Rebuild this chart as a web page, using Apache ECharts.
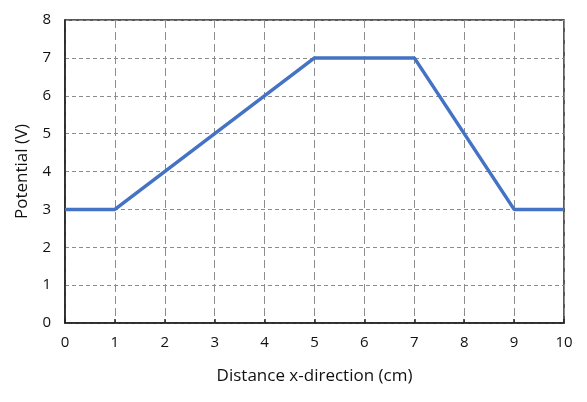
<!DOCTYPE html>
<html>
<head>
<meta charset="UTF-8">
<title>Potential</title>
<style>
    html, body { margin: 0; padding: 0; background: #fff; }
    #chart { width: 587px; height: 402px; }
</style>
</head>
<body>
<div id="chart"></div>
<script src="https://cdn.jsdelivr.net/npm/echarts@6/dist/echarts.min.js"></script>
<script>
    // values
    const distance = [0, 1, 5, 7, 9, 10];
    const potential = [3, 3, 7, 7, 3, 3];
    const xTicks = { min: 0, max: 10, step: 1 };
    const yTicks = { min: 0, max: 8, step: 1 };

    const font = 'Open Sans, Liberation Sans, sans-serif';
    const chart = echarts.init(document.getElementById('chart'));

    chart.setOption({
        animation: false,
        grid: {
            left: 65, right: 23, top: 20, bottom: 79,
            outerBoundsMode: 'none',
            show: true, borderColor: '#222', borderWidth: 1.5
        },
        xAxis: {
            type: 'value',
            min: xTicks.min, max: xTicks.max, interval: xTicks.step,
            name: 'Distance x-direction (cm)',
            nameLocation: 'middle', nameGap: 45,
            nameTextStyle: { fontFamily: font, fontSize: 17, color: '#111' },
            axisLine: { lineStyle: { color: '#222', width: 1.5 } },
            axisTick: { show: true, inside: true, length: 4, lineStyle: { color: '#222', width: 1.5 } },
            axisLabel: { fontFamily: font, fontSize: 15, color: '#111', margin: 12 },
            splitLine: { lineStyle: { color: '#8c8c8c', type: [8, 4], width: 1 } }
        },
        yAxis: {
            type: 'value',
            min: yTicks.min, max: yTicks.max, interval: yTicks.step,
            name: 'Potential (V)',
            nameLocation: 'middle', nameGap: 34,
            nameTextStyle: { fontFamily: font, fontSize: 17, color: '#111' },
            axisLine: { show: true, lineStyle: { color: '#222', width: 1.5 } },
            axisTick: { show: false },
            axisLabel: { fontFamily: font, fontSize: 15, color: '#111', margin: 14 },
            splitLine: { lineStyle: { color: '#8c8c8c', type: [4, 3], width: 1 } }
        },
        series: [{
            type: 'line',
            data: distance.map((x, i) => [x, potential[i]]),
            showSymbol: false,
            lineStyle: { color: '#4472C4', width: 3.5 },
            itemStyle: { color: '#4472C4' }
        }]
    });
</script>
</body>
</html>
